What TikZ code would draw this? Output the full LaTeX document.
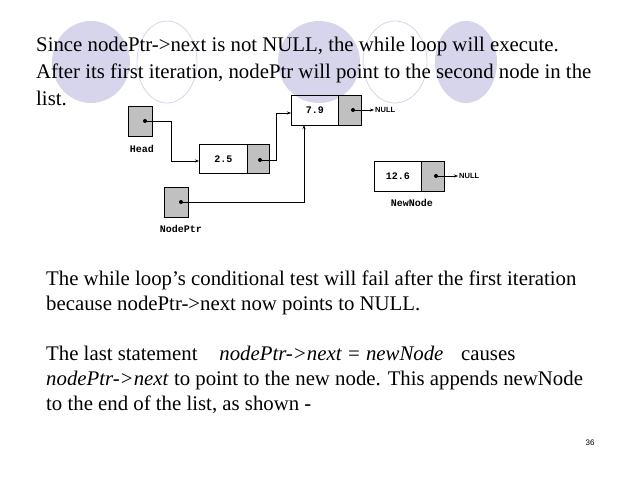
\documentclass[tikz,border=0pt]{standalone}
\usepackage{fontspec}
\setmainfont{Liberation Serif}
\newfontfamily\mono{Liberation Mono}
\newfontfamily\arialf{Liberation Sans}
\usetikzlibrary{arrows.meta}
\definecolor{lav}{RGB}{214,213,236}
\definecolor{cellgray}{RGB}{192,192,192}
\tikzset{
  x=1pt,y=-1pt,
  cell/.style={draw,line width=0.6pt,inner sep=0,anchor=north west},
  ptr/.style={cell,fill=cellgray},
  lnk/.style={line width=0.5pt,-{Stealth[length=4pt,width=3pt]}},
  dot/.style={circle,fill,inner sep=0,minimum size=4pt},
  lab/.style={font=\mono\bfseries\fontsize{10}{11}\selectfont},
  nul/.style={font=\arialf\bfseries\fontsize{7.5}{8}\selectfont,anchor=west,inner sep=1pt},
  txt/.style={font=\fontsize{20.8}{24}\selectfont,anchor=base west,inner sep=0}
}
\begin{document}
\begin{tikzpicture}
\useasboundingbox (0,0) rectangle (638,478);
% background circles
\fill[lav] (91,62) ellipse (39 and 41);
\draw[lav,line width=0.8pt] (167,62) ellipse (30 and 41);
\fill[lav] (319,62) ellipse (41 and 41);
\draw[lav,line width=0.8pt] (395,62) ellipse (32 and 41);
\fill[lav] (466,62) ellipse (31 and 41);
% top text
\node[txt] (t1) at (36,52) {Since nodePtr->next is not NULL, the while loop will execute.};
\node[txt] (t2) at (36,79) {After its first iteration, nodePtr will point to the second node in the};
\node[txt] (t3) at (36,106) {list.};
% diagram
\node[ptr,minimum width=24,minimum height=30] (head) at (128,106) {};
\node[dot] (hd) at (145,121) {};
\node[lab] (headl) at (142,149) {Head};
\node[cell,minimum width=48,minimum height=29,lab] (n25) at (199,144) {2.5};
\node[ptr,minimum width=22,minimum height=29] (n25p) at (247,144) {};
\node[dot] (d25) at (260,160) {};
\node[cell,minimum width=47,minimum height=30,lab] (n79) at (291,95) {7.9};
\node[ptr,minimum width=23,minimum height=30] (n79p) at (338,95) {};
\node[dot] (d79) at (353,110) {};
\node[nul] (null1) at (374,110) {NULL};
\node[ptr,minimum width=24,minimum height=30] (np) at (164,187) {};
\node[dot] (dnp) at (181,202) {};
\node[lab] (npl) at (181,229) {NodePtr};
\node[cell,minimum width=47,minimum height=30,lab] (n126) at (374,161) {12.6};
\node[ptr,minimum width=23,minimum height=30] (n126p) at (421,161) {};
\node[dot] (d126) at (436,176) {};
\node[nul] (null2) at (458,176) {NULL};
\node[lab] (nnl) at (412,203) {NewNode};
\coordinate (a79) at (304,125);
\draw[lnk] (hd.center) -| (171,161) -- (199,161);
\draw[lnk] (d25.center) -| (276,113) -- (291,113);
\draw[lnk] (dnp.center) -| (a79);
\draw[lnk] (d79.center) -- (null1.west);
\draw[lnk] (d126.center) -- (null2.west);
% lower text
\node[txt] (b1) at (46,286) {The while loop’s conditional test will fail after the first iteration};
\node[txt] (b2) at (46,311) {because nodePtr->next now points to NULL.};
\node[txt] (b3) at (46,361) {The last statement \hspace{0.8em}\textit{nodePtr->next = newNode}\hspace{0.6em} causes};
\node[txt] (b4) at (46,386) {\textit{nodePtr->next} to point to the new node. This appends newNode};
\node[txt] (b5) at (46,411) {to the end of the list, as shown -};
\node[font=\arialf\fontsize{8}{9}\selectfont] (pg) at (590,443) {36};
\end{tikzpicture}
\end{document}
